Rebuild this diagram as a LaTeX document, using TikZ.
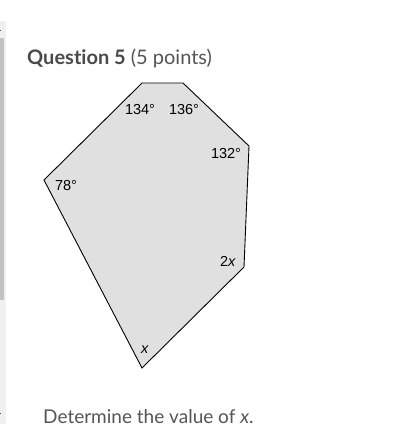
\documentclass[tikz,border=0pt]{standalone}
\usepackage{fontspec}
\setmainfont{Lato}[Ligatures=NoCommon]
\newfontfamily\arialf{Liberation Sans}
\definecolor{qdark}{HTML}{4A4A4A}
\definecolor{qtext}{HTML}{555555}
\definecolor{polyfill}{HTML}{E0E0E0}
\definecolor{stripA}{HTML}{F0F0F0}
\definecolor{stripB}{HTML}{C2C2C2}
\tikzset{
  anglelbl/.style={font=\arialf\fontsize{14.5}{16}\selectfont, text=black, inner sep=0pt},
  qline/.style={anchor=base west, inner sep=0pt, text=qdark},
}
\begin{document}
\begin{tikzpicture}[x=1pt,y=-1pt]
\useasboundingbox (0,0) rectangle (407,444);
\fill[white] (0,0) rectangle (407,444);
% left strip
\fill[stripA] (0,21) rectangle (6,424);
\fill[stripB] (0,38) rectangle (4,300);
\fill[qdark] (0,30) rectangle (1,31);
\fill[qdark] (0,413) rectangle (1,414);
% title
\node[qline, font=\fontsize{20}{24}\selectfont] (title) at (27,64.5) {\textbf{Question 5} {\color{qtext}(5 points)}};
% polygon
\coordinate (A) at (142,83);
\coordinate (B) at (183,83);
\coordinate (C) at (249,146);
\coordinate (D) at (244,267);
\coordinate (E) at (142,368);
\coordinate (F) at (44,180);
\filldraw[fill=polyfill, draw=black, line width=0.9pt, line join=miter] (A) -- (B) -- (C) -- (D) -- (E) -- (F) -- cycle;
% angle labels
\node[anglelbl] (a1) at (140,110) {134°};
\node[anglelbl] (a2) at (184,110) {136°};
\node[anglelbl] (a3) at (226,154) {132°};
\node[anglelbl] (a4) at (66,186) {78°};
\node[anglelbl] (a5) at (228,261) {2\textit{x}};
\node[anglelbl] (a6) at (145,350) {\textit{x}};
% question
\node[qline, text=qtext, font=\fontsize{19}{22}\selectfont] (q) at (43,423) {Determine the value of \textit{x}.};
\end{tikzpicture}
\end{document}
